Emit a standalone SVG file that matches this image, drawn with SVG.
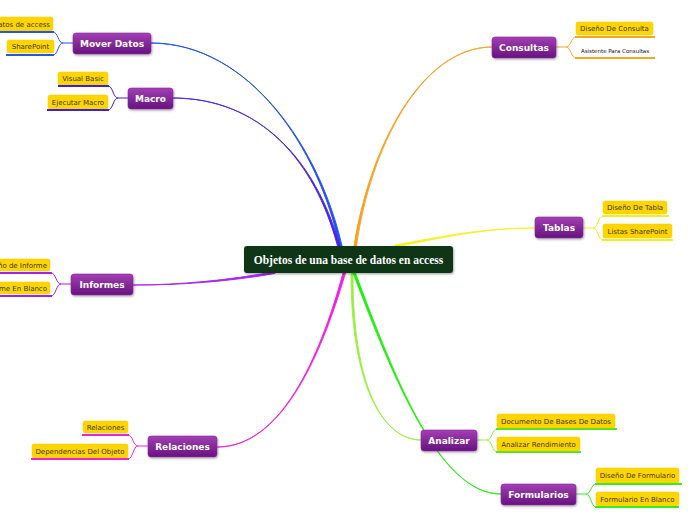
<svg xmlns="http://www.w3.org/2000/svg" width="697" height="520" viewBox="0 0 697 520">
<defs>
<linearGradient id="ng" x1="0" y1="0" x2="0" y2="1">
<stop offset="0" stop-color="#a23fb3"/>
<stop offset="1" stop-color="#67137f"/>
</linearGradient>
<filter id="sh" x="-20%" y="-30%" width="140%" height="170%">
<feDropShadow dx="0.8" dy="1.2" stdDeviation="0.9" flood-color="#000" flood-opacity="0.35"/>
</filter>
<style>
.node rect{fill:url(#ng);stroke:#8a2a9c;stroke-width:0.6;filter:url(#sh)}
.node text{font-family:"DejaVu Sans","Verdana",sans-serif;font-weight:bold;font-size:9px;fill:#fff;text-anchor:middle}
.leaf rect{fill:#ffd500;stroke:#f5c800;stroke-width:0.5}
.leaf text{font-family:"DejaVu Sans","Verdana",sans-serif;font-size:7px;fill:#3b3512;text-anchor:middle}
.ul{stroke-width:2;fill:none}
.fk{stroke-width:1;fill:none}
.br{stroke-width:0.9}
</style>
</defs>
<rect width="697" height="520" fill="#fff"/>

<g id="connectors">
<!-- main tapered branches -->
<path class="br" d="M339.5,246 C319.5,150 250,43 151,43 C250,43.5 320.5,150 342,246 Z" fill="#1f4ff5" stroke="#1f4ff5"/>
<path class="br" d="M337.5,246 C314.5,160 260,98 173,98 C260,98.5 315.5,160 340,246 Z" fill="#4a22e6" stroke="#4a22e6"/>
<path class="br" d="M354,246 C369,150 420,47 492,47 C420,47.5 370,150 356.5,246 Z" fill="#f5a11f" stroke="#f5a11f"/>
<path class="br" d="M395,245 C440,237 480,228 535,228 C480,228.3 440,238.5 395,247 Z" fill="#f5f020" stroke="#f5f020"/>
<path class="br" d="M275,271.5 C230,280 180,285 133,285 C180,285.3 230,281.5 275,273.5 Z" fill="#a522ee" stroke="#a522ee"/>
<path class="br" d="M343,273 C319,360 280,447 217,447 C280,447.5 320,360 345.5,273 Z" fill="#f020e0" stroke="#f020e0"/>
<path class="br" d="M351,273 C351,390 385,440 421,440 C385,440.3 352.5,390 353,273 Z" fill="#98ee40" stroke="#98ee40"/>
<path class="br" d="M353,273 C394,380 440,494 501,494 C440,494.3 395.5,380 355.5,273 Z" fill="#22ee11" stroke="#22ee11"/>

<!-- leaf forks -->
<path class="fk" stroke="#2255ee" d="M73,43 H63 C58,43 58,32 53,32 M63,43 C58,43 58,55 53,55"/>
<path class="fk" stroke="#3a1ee8" d="M128,98 H118 C113,98 113,86 108,86 M118,98 C113,98 113,110 108,110"/>
<path class="fk" stroke="#a31ff0" d="M71,284 H61 C56,284 56,273 51,273 M61,284 C56,284 56,296 51,296"/>
<path class="fk" stroke="#f020e0" d="M148,446 H138 C133,446 133,435 128,435 M138,446 C133,446 133,459 128,459"/>
<path class="fk" stroke="#f5a623" d="M556,47 H566 C571,47 571,37 576,37 M566,47 C571,47 571,58 576,58"/>
<path class="fk" stroke="#f0f020" d="M583,228 H593 C598,228 598,216 603,216 M593,228 C598,228 598,240 603,240"/>
<path class="fk" stroke="#90ee44" d="M477,440 H487 C492,440 492,429 497,429 M487,440 C492,440 492,452 497,452"/>
<path class="fk" stroke="#33ee22" d="M576,494 H586 C591,494 591,484 596,484 M586,494 C591,494 591,507 596,507"/>
</g>

<g id="center">
<rect x="244" y="246" width="209" height="27" rx="3" fill="#0c3515" filter="url(#sh)"/>
<text x="348.5" y="263.5" font-family="'Liberation Serif','Times New Roman',serif" font-weight="bold" font-size="11.5" fill="#fff" text-anchor="middle">Objetos de una base de datos en access</text>
</g>

<!-- Mover Datos -->
<g id="node-mover-datos" class="node"><rect x="73" y="33" width="78" height="21" rx="3"/><text x="112" y="47">Mover Datos</text></g>
<g id="leaf-datos-access" class="leaf"><rect x="-10" y="17" width="63" height="14" rx="2"/><text x="50" y="26.5" style="text-anchor:end">Datos de access</text><line class="ul" x1="-10" y1="32" x2="54" y2="32" stroke="#2255ee"/></g>
<g id="leaf-sharepoint-1" class="leaf"><rect x="7" y="40" width="47" height="13" rx="2"/><text x="30.5" y="49">SharePoint</text><line class="ul" x1="6" y1="55" x2="54" y2="55" stroke="#2255ee"/></g>

<!-- Macro -->
<g id="node-macro" class="node"><rect x="128" y="88" width="45" height="21" rx="3"/><text x="150.5" y="102">Macro</text></g>
<g id="leaf-visual-basic" class="leaf"><rect x="58" y="72" width="50" height="13" rx="2"/><text x="83" y="81">Visual Basic</text><line class="ul" x1="58" y1="86" x2="109" y2="86" stroke="#3a1ee8"/></g>
<g id="leaf-ejecutar-macro" class="leaf"><rect x="48" y="95" width="60" height="14" rx="2"/><text x="78" y="104.5">Ejecutar Macro</text><line class="ul" x1="47" y1="110" x2="109" y2="110" stroke="#3a1ee8"/></g>

<!-- Informes -->
<g id="node-informes" class="node"><rect x="71" y="274" width="62" height="21" rx="3"/><text x="102" y="288">Informes</text></g>
<g id="leaf-diseno-informe" class="leaf"><rect x="-20" y="259" width="70" height="12" rx="2"/><text x="47" y="267.5" style="text-anchor:end">Diseño de Informe</text><line class="ul" x1="-20" y1="273" x2="52" y2="273" stroke="#a31ff0"/></g>
<g id="leaf-informe-blanco" class="leaf"><rect x="-20" y="282" width="70" height="12" rx="2"/><text x="47" y="290.5" style="text-anchor:end">Informe En Blanco</text><line class="ul" x1="-20" y1="296" x2="52" y2="296" stroke="#a31ff0"/></g>

<!-- Relaciones -->
<g id="node-relaciones" class="node"><rect x="148" y="436" width="69" height="21" rx="3"/><text x="182.5" y="450">Relaciones</text></g>
<g id="leaf-relaciones" class="leaf"><rect x="83" y="421" width="45" height="12" rx="2"/><text x="105.5" y="429.5">Relaciones</text><line class="ul" x1="82" y1="435" x2="129" y2="435" stroke="#f020e0"/></g>
<g id="leaf-dependencias" class="leaf"><rect x="32" y="444" width="96" height="14" rx="2"/><text x="80" y="453.5">Dependencias Del Objeto</text><line class="ul" x1="31" y1="459" x2="129" y2="459" stroke="#f020e0"/></g>

<!-- Consultas -->
<g id="node-consultas" class="node"><rect x="492" y="37" width="64" height="21" rx="3"/><text x="524" y="51">Consultas</text></g>
<g id="leaf-diseno-consulta" class="leaf"><rect x="576" y="22" width="77" height="13" rx="2"/><text x="614.5" y="31">Diseño De Consulta</text><line class="ul" x1="575" y1="37" x2="655" y2="37" stroke="#f5a623"/></g>
<g id="leaf-asistente" class="leaf"><text x="615" y="52.5" style="font-size:5.5px;fill:#111">Asistente Para Consultas</text><line class="ul" x1="575" y1="58" x2="655" y2="58" stroke="#f5a623"/></g>

<!-- Tablas -->
<g id="node-tablas" class="node"><rect x="535" y="217" width="48" height="21" rx="3"/><text x="559" y="231">Tablas</text></g>
<g id="leaf-diseno-tabla" class="leaf"><rect x="603" y="201" width="64" height="13" rx="2"/><text x="635" y="210">Diseño De Tabla</text><line class="ul" x1="602" y1="216" x2="669" y2="216" stroke="#f0f020"/></g>
<g id="leaf-listas-sharepoint" class="leaf"><rect x="603" y="224" width="69" height="14" rx="2"/><text x="637.5" y="233.5">Listas SharePoint</text><line class="ul" x1="602" y1="240" x2="673" y2="240" stroke="#f0f020"/></g>

<!-- Analizar -->
<g id="node-analizar" class="node"><rect x="421" y="430" width="56" height="21" rx="3"/><text x="449" y="444">Analizar</text></g>
<g id="leaf-documento" class="leaf"><rect x="497" y="414" width="118" height="14" rx="2"/><text x="556" y="423.5">Documento De Bases De Datos</text><line class="ul" x1="496" y1="429" x2="617" y2="429" stroke="#55e622"/></g>
<g id="leaf-rendimiento" class="leaf"><rect x="497" y="437" width="83" height="14" rx="2"/><text x="538.5" y="446.5">Analizar Rendimiento</text><line class="ul" x1="496" y1="452" x2="581" y2="452" stroke="#55e622"/></g>

<!-- Formularios -->
<g id="node-formularios" class="node"><rect x="501" y="484" width="75" height="21" rx="3"/><text x="538.5" y="498">Formularios</text></g>
<g id="leaf-diseno-formulario" class="leaf"><rect x="596" y="468" width="83" height="15" rx="2"/><text x="637.5" y="478">Diseño De Formulario</text><line class="ul" x1="595" y1="484" x2="682" y2="484" stroke="#33ee22"/></g>
<g id="leaf-formulario-blanco" class="leaf"><rect x="596" y="492" width="83" height="14" rx="2"/><text x="637.5" y="501.5">Formulario En Blanco</text><line class="ul" x1="595" y1="507" x2="679" y2="507" stroke="#33ee22"/></g>
</svg>
